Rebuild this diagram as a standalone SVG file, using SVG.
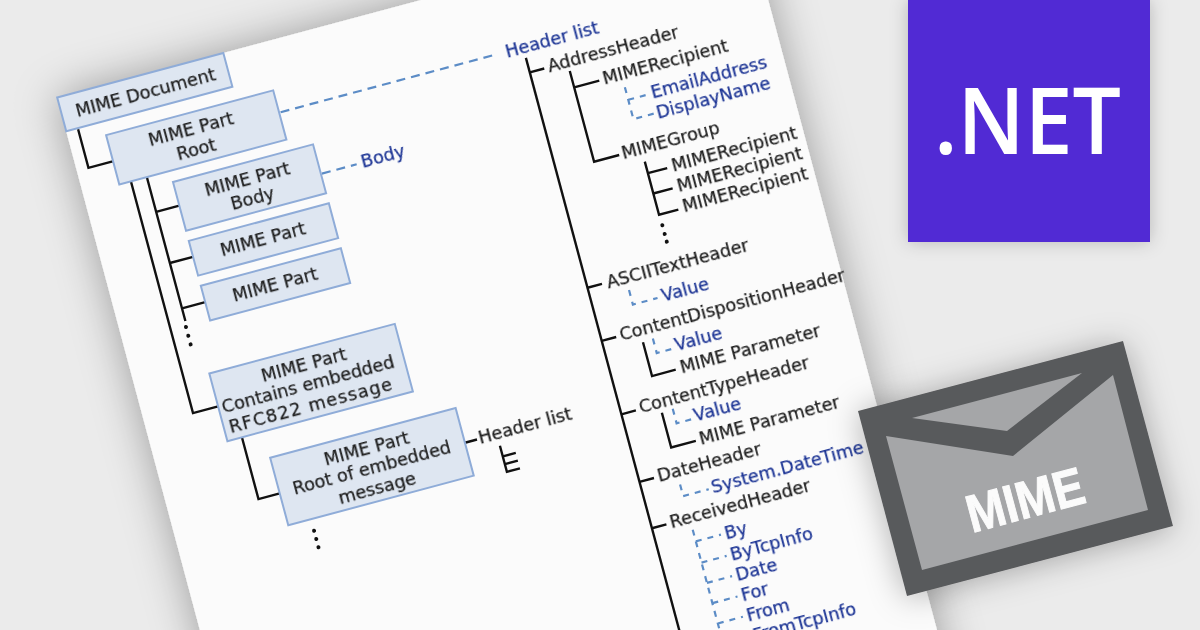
<svg xmlns="http://www.w3.org/2000/svg" width="1200" height="630" viewBox="0 0 1200 630">
<defs>
<filter id="paperShadow" x="-15%" y="-15%" width="130%" height="130%"><feDropShadow dx="0" dy="0" stdDeviation="22" flood-color="#000" flood-opacity="0.34"/></filter>
<filter id="envShadow" x="-25%" y="-25%" width="150%" height="150%"><feDropShadow dx="0" dy="2" stdDeviation="16" flood-color="#000" flood-opacity="0.3"/></filter>
<filter id="netShadow" x="-15%" y="-15%" width="130%" height="130%"><feDropShadow dx="0" dy="0" stdDeviation="9" flood-color="#000" flood-opacity="0.22"/></filter>
<filter id="soft" x="-5%" y="-20%" width="110%" height="140%"><feGaussianBlur stdDeviation="0.3"/></filter>
</defs>
<style>
.t{font-family:"DejaVu Sans","Liberation Sans",sans-serif;font-size:17.7px;fill:#1c1c1c;stroke:#1c1c1c;stroke-width:.25px;filter:url(#soft)}
.b{fill:#1d3595;stroke:#1d3595}
.m{text-anchor:middle}
.box{fill:#dee6f1;stroke:#8facd8;stroke-width:2}
.l{fill:none;stroke:#111;stroke-width:2.4}
.d{fill:none;stroke:#5c8cc6;stroke-width:2.2;stroke-dasharray:6 6}
.d2{fill:none;stroke:#5c8cc6;stroke-width:2.2;stroke-dasharray:9 6}
.dot{fill:#111}
</style>
<rect width="1200" height="630" fill="#ebebeb"/>
<g transform="rotate(-15)">
<rect id="paper" x="30" y="109" width="712" height="900" fill="#fbfbfb" filter="url(#paperShadow)"/>
<g id="connectors">
<path class="l" d="M42 145V185H68"/>
<path class="l" d="M79.500 209V449H105.500"/>
<path class="l" d="M96 209V358M96 245H120M96 298H120M96 345H120"/>
<path class="l" d="M120.500 485V549H142.500"/>
<path class="l" d="M334.500 548H347"/>
<path class="l" d="M367.500 560V587H381M367.500 571H381M367.500 579H381"/>
<path class="d2" d="M242 181H467"/>
<path class="d2" d="M266 251H302"/>
<path class="l" d="M493 192V860"/>
<path class="l" d="M493 207H508M493 430H508M493 485H508M493 561H508M493 631H508M493 679H508"/>
<path class="l" d="M532 216V310H558M532 233H558"/>
<path class="d" d="M581 246V279H602M581 259H602"/>
<path class="l" d="M581 323V378H601M581 335H601M581 356H601"/>
<path class="d" d="M532.500 443V458H558"/>
<path class="d" d="M543 496V511H558"/>
<path class="l" d="M532.500 497V532H557"/>
<path class="d" d="M544 569V584H559"/>
<path class="l" d="M532.500 570V606H558"/>
<path class="d" d="M531.500 644V656H558"/>
<path class="d" d="M532 691V809H558M532 703H558M532 725H558M532 746H558M532 767H558M532 788H558"/>
<g class="dot">
<circle cx="95" cy="364" r="2"/><circle cx="95" cy="373" r="2"/><circle cx="95" cy="382" r="2"/>
<circle cx="166" cy="594" r="2"/><circle cx="166" cy="602.500" r="2"/><circle cx="166" cy="611" r="2"/>
<circle cx="581.500" cy="389" r="2"/><circle cx="581.500" cy="398" r="2"/><circle cx="581.500" cy="406" r="2"/>
</g>
</g>
<g id="n-doc"><rect class="box" x="30" y="109" width="172" height="35"/><text class="t m" x="116.500" y="133">MIME Document</text></g>
<g id="n-root"><rect class="box" x="67.500" y="158" width="173" height="51"/><text class="t m" x="151" y="180">MIME Part</text><text class="t m" x="151" y="201">Root</text></g>
<g id="n-body"><rect class="box" x="120" y="220.500" width="145" height="50.500"/><text class="t m" x="192.500" y="243">MIME Part</text><text class="t m" x="192.500" y="263">Body</text></g>
<g id="n-part1"><rect class="box" x="120" y="281.500" width="145" height="36"/><text class="t m" x="192" y="305">MIME Part</text></g>
<g id="n-part2"><rect class="box" x="120" y="328" width="145" height="36"/><text class="t m" x="192" y="352">MIME Part</text></g>
<g id="n-embedded"><rect class="box" x="105.500" y="415" width="192" height="70"/><text class="t m" x="199" y="437">MIME Part</text><text class="t m" x="198" y="457">Contains embedded</text><text class="t m" x="195" y="478" textLength="168" lengthAdjust="spacing">RFC822 message</text></g>
<g id="n-rootemb"><rect class="box" x="142.500" y="512" width="192" height="70"/><text class="t m" x="238" y="534">MIME Part</text><text class="t m" x="238" y="554">Root of embedded</text><text class="t m" x="238" y="575">message</text></g>
<g id="labels">
<text class="t b" x="475" y="187">Header list</text>
<text class="t b" x="307" y="256.500">Body</text>
<text class="t" x="349" y="553">Header list</text>
<text class="t" x="512" y="212">AddressHeader</text>
<text class="t" x="562" y="238">MIMERecipient</text>
<text class="t b" x="605" y="264">EmailAddress</text>
<text class="t b" x="605" y="285">DisplayName</text>
<text class="t" x="561" y="315">MIMEGroup</text>
<text class="t" x="606" y="340">MIMERecipient</text>
<text class="t" x="606" y="361">MIMERecipient</text>
<text class="t" x="606" y="382">MIMERecipient</text>
<text class="t" x="513" y="436">ASCIITextHeader</text>
<text class="t b" x="562.500" y="463">Value</text>
<text class="t" x="512" y="490">ContentDispositionHeader</text>
<text class="t b" x="562.500" y="514">Value</text>
<text class="t" x="562" y="537">MIME Parameter</text>
<text class="t" x="512" y="565">ContentTypeHeader</text>
<text class="t b" x="562.500" y="587">Value</text>
<text class="t" x="562" y="611">MIME Parameter</text>
<text class="t" x="512" y="636">DateHeader</text>
<text class="t b" x="561" y="661">System.DateTime</text>
<text class="t" x="512" y="684">ReceivedHeader</text>
<text class="t b" x="562" y="709">By</text>
<text class="t b" x="562" y="731">ByTcpInfo</text>
<text class="t b" x="562" y="752">Date</text>
<text class="t b" x="562" y="773">For</text>
<text class="t b" x="562" y="794">From</text>
<text class="t b" x="563" y="815">FromTcpInfo</text>
</g>
</g>
<g id="dotnet">
<rect x="908" y="0" width="242" height="242" fill="#512bd4" filter="url(#netShadow)"/>
<text x="934" y="154" font-family="Open Sans, Liberation Sans, sans-serif" font-size="92" font-weight="600" fill="#fff" textLength="187" lengthAdjust="spacingAndGlyphs">.NET</text>
</g>
<g id="envelope">
<polygon points="858,411 1123,341 1173,526 907,596" fill="#595a5c" filter="url(#envShadow)"/>
<polygon points="886,436 1013,456 1113,375 1148,510 922,570" fill="#a5a6a8"/>
<polygon points="912,418 1082,373 1007,431" fill="#a5a6a8"/>
<text transform="translate(972,533) rotate(-15)" font-family="Liberation Sans, sans-serif" font-weight="700" font-size="53" fill="#fbfbfb" stroke="#fbfbfb" stroke-width="1" textLength="120" lengthAdjust="spacingAndGlyphs">MIME</text>
</g>
</svg>
